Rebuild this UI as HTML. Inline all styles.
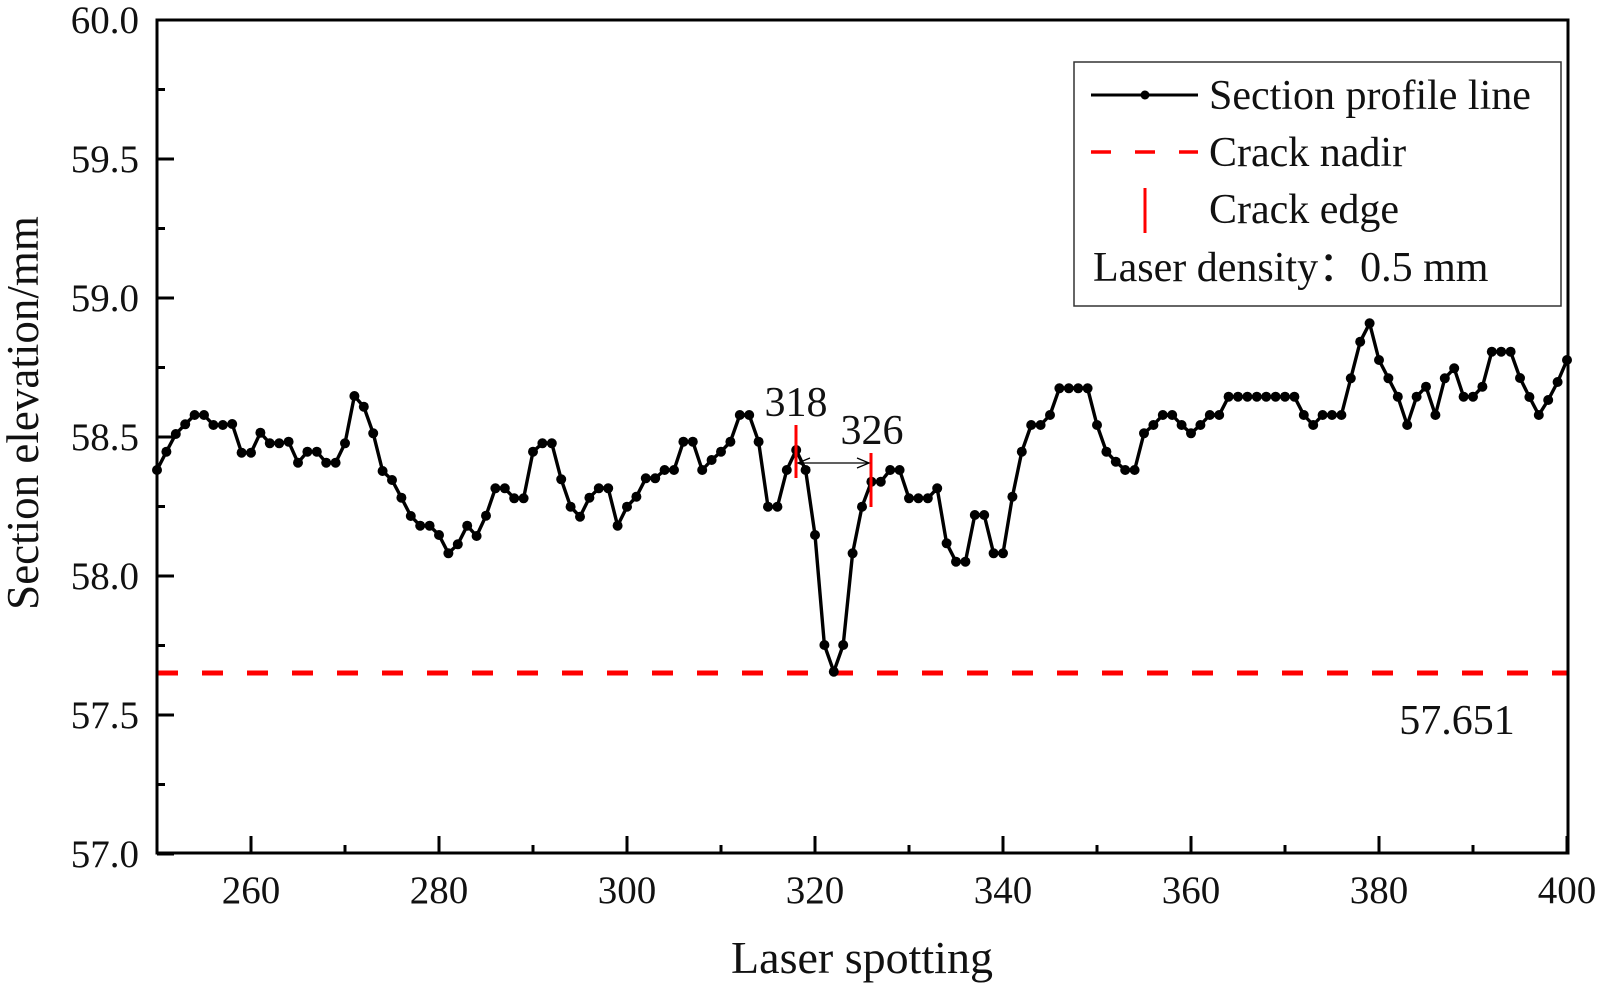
<!DOCTYPE html>
<html><head><meta charset="utf-8"><style>
html,body{margin:0;padding:0;background:#fff;}
svg text{font-family:"Liberation Serif",serif;fill:#111;}
</style></head><body>
<svg id="s" width="1600" height="990" viewBox="0 0 1600 990" xmlns="http://www.w3.org/2000/svg">
<rect x="0" y="0" width="1600" height="990" fill="#fff"/>
<g id="ticks" stroke="#000" stroke-width="3"></g>
<g font-size="39" text-anchor="end">
<text x="139" y="33">60.0</text>
<text x="139" y="172">59.5</text>
<text x="139" y="311">59.0</text>
<text x="139" y="450">58.5</text>
<text x="139" y="589">58.0</text>
<text x="139" y="728">57.5</text>
<text x="139" y="867">57.0</text>
</g>
<g font-size="39" text-anchor="middle">
<text x="251" y="903">260</text>
<text x="439" y="903">280</text>
<text x="627" y="903">300</text>
<text x="815" y="903">320</text>
<text x="1003" y="903">340</text>
<text x="1191" y="903">360</text>
<text x="1379" y="903">380</text>
<text x="1567" y="903">400</text>
</g>
<text x="862" y="973" font-size="46" text-anchor="middle">Laser spotting</text>
<text transform="translate(38,413) rotate(-90)" font-size="45" text-anchor="middle">Section elevation/mm</text>
<line x1="157" y1="673" x2="1568" y2="673" stroke="#f00" stroke-width="5" stroke-dasharray="21 24"/>
<polyline id="pl" fill="none" stroke="#000" stroke-width="3.4" stroke-linejoin="round"/>
<g id="dots" fill="#000"></g>
<line x1="796" y1="425" x2="796" y2="478" stroke="#f00" stroke-width="3"/>
<line x1="871" y1="453" x2="871" y2="507" stroke="#f00" stroke-width="3"/>
<line x1="798" y1="463" x2="869" y2="463" stroke="#000" stroke-width="1.3"/>
<polyline points="810,458 798,463 810,468" fill="none" stroke="#000" stroke-width="1.3"/>
<polyline points="857,458 869,463 857,468" fill="none" stroke="#000" stroke-width="1.3"/>
<text x="796" y="416" font-size="42" text-anchor="middle">318</text>
<text x="872" y="444" font-size="42" text-anchor="middle">326</text>
<text x="1457" y="734" font-size="42" text-anchor="middle">57.651</text>
<rect x="157" y="20" width="1411" height="833" fill="none" stroke="#000" stroke-width="3"/>
<rect x="1074" y="62" width="487" height="244" fill="#fff" stroke="#333" stroke-width="1.5"/>
<line x1="1091" y1="95" x2="1198" y2="95" stroke="#000" stroke-width="3"/>
<circle cx="1145" cy="95" r="4.5" fill="#000"/>
<line x1="1091" y1="152" x2="1198" y2="152" stroke="#f00" stroke-width="3.5" stroke-dasharray="20 24"/>
<line x1="1145" y1="188" x2="1145" y2="233" stroke="#f00" stroke-width="3"/>
<g font-size="42">
<text x="1209" y="109">Section profile line</text>
<text x="1209" y="166">Crack nadir</text>
<text x="1209" y="223">Crack edge</text>
<text x="1093" y="281" font-family="'Liberation Serif','Noto Serif CJK SC',serif">Laser density：0.5 mm</text>
</g>
</svg>
<script>
var ys=[470,451.7,434,424.3,415,415,425,425,424,452.7,452.7,432.7,443.3,443.3,441.7,462.7,451.7,451.7,462.7,462.7,443.3,396,406.7,433.3,471,480,497.7,516,525.7,525.7,535,553.3,544.3,525.7,536,515.7,488.3,488.3,498.3,498.3,451.7,443.3,443.3,479.3,506.7,516.7,497.7,488.3,488.3,525.7,506.7,
496.7,478.3,478.3,470,470,441.7,441.7,470,460,451.7,441.7,415,415,441.7,506.7,506.7,470,450,470,535,645,671.7,645,553.3,506.7,481.7,481.7,470,470,498.3,498.3,498.3,488.3,543.3,561.7,561.7,515,515,553.3,553.3,496.7,451.7,425,425,415,388.3,
388.3,388.3,388.3,425,451.7,461.7,470,470,433.3,425,415,415,425,433.3,425,415,415,396.7,396.7,396.7,396.7,396.7,396.7,396.7,396.7,415,425,415,415,415,378.3,341.7,323.3,360,378.3,396.7,425,396.7,386.7,415,378.3,368.3,396.7,396.7,386.7,351.7,351.7,351.7,378,397,415,400,382,360];
var ns="http://www.w3.org/2000/svg",pts=[],d=document.getElementById('dots');
for(var i=0;i<ys.length;i++){var x=157+i*9.4;pts.push(x.toFixed(1)+','+ys[i]);
var c=document.createElementNS(ns,'circle');c.setAttribute('cx',x);c.setAttribute('cy',ys[i]);c.setAttribute('r',5);d.appendChild(c);}
document.getElementById('pl').setAttribute('points',pts.join(' '));
var t=document.getElementById('ticks'),h='';
for(var v=0;v<=12;v++){var y=20+v*69.5;var L=(v%2==0)?17:8;h+='<line x1="157" y1="'+y+'" x2="'+(157+L)+'" y2="'+y+'"/>';}
for(var k=250;k<=400;k+=10){var x=157+(k-250)*9.4;var L=(k%20==0)?17:8;h+='<line x1="'+x+'" y1="853" x2="'+x+'" y2="'+(853-L)+'"/>';}
t.innerHTML=h;
</script>
</body></html>
